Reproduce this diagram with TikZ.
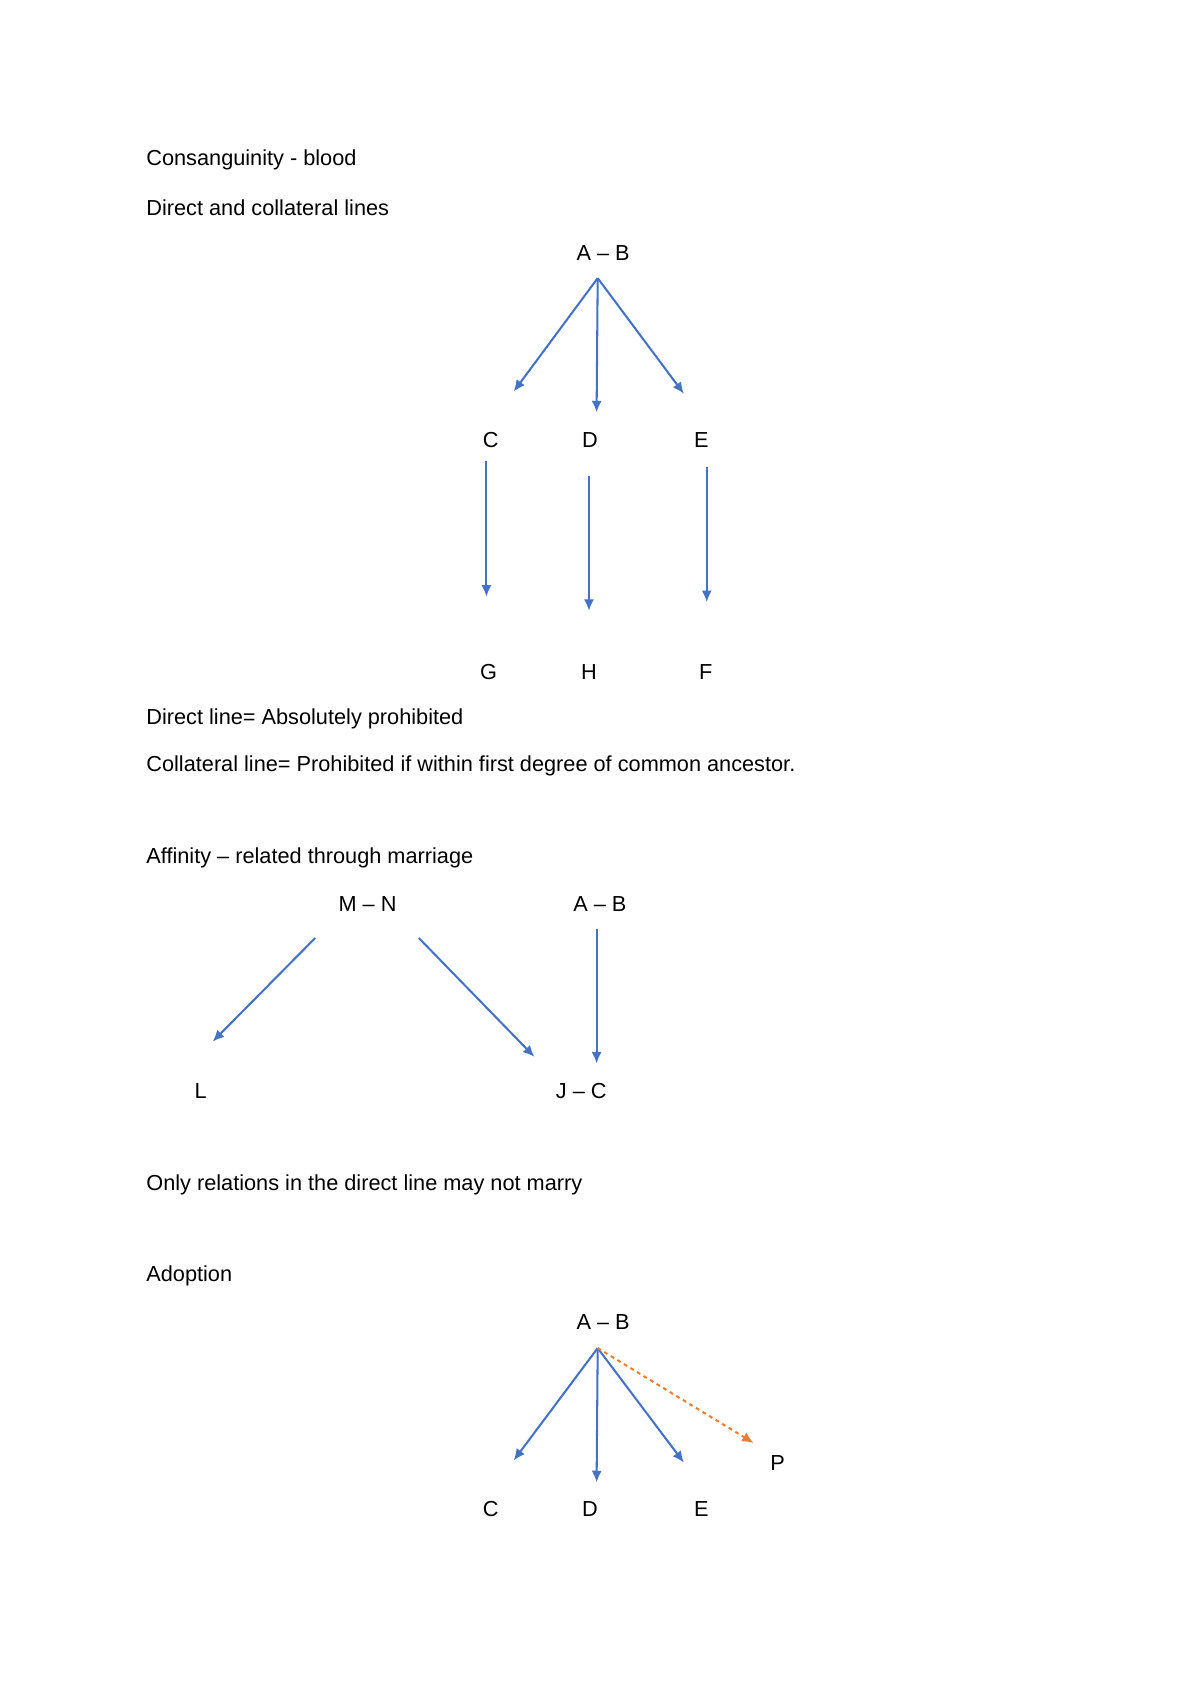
\documentclass[tikz,border=0pt]{standalone}
\usepackage{fontspec}
\setmainfont{Liberation Sans}
\usetikzlibrary{arrows.meta}
\tikzset{
  txt/.style={anchor=west,inner sep=0pt,font=\fontsize{17}{20}\selectfont},
  lbl/.style={inner sep=0pt,font=\fontsize{17}{20}\selectfont},
  rel/.style={draw={rgb,255:red,68;green,114;blue,196},line width=1.6pt,-{Latex[length=9pt,width=8pt]}},
  adopt/.style={draw={rgb,255:red,237;green,125;blue,49},line width=1.6pt,dashed,-{Latex[length=9pt,width=8pt]}}
}
\begin{document}
\begin{tikzpicture}[x=0.03cm,y=-0.03cm]
\useasboundingbox (0,0) rectangle (1100,1555);
% headings
\node[txt] (t1) at (134,147) {Consanguinity - blood};
\node[txt] (t2) at (134,190) {Direct and collateral lines};
% consanguinity tree
\node[lbl] (ab1) at (553,232) {A -- B};
\node[lbl] (c1) at (450,403) {C};
\node[lbl] (d1) at (541,403) {D};
\node[lbl] (e1) at (643,403) {E};
\node[lbl] (g1) at (448,616) {G};
\node[lbl] (h1) at (540,616) {H};
\node[lbl] (f1) at (647,616) {F};
\coordinate (top1) at (548,255);
\draw[rel] (top1) -- (471,359);
\draw[rel] (top1) -- (547,378);
\draw[rel] (top1) -- (627,361);
\draw[rel] (446,423) -- (446,547);
\draw[rel] (540,436) -- (540,560);
\draw[rel] (648,428) -- (648,552);
\node[txt] (t3) at (134,659) {Direct line= Absolutely prohibited};
\node[txt] (t4) at (134,702) {Collateral line= Prohibited if within first degree of common ancestor.};
% affinity
\node[txt] (t5) at (134,787) {Affinity -- related through marriage};
\node[lbl] (mn) at (337,829) {M -- N};
\node[lbl] (ab2) at (550,829) {A -- B};
\node[lbl] (l2) at (184,1000) {L};
\node[lbl] (jc) at (533,1000) {J -- C};
\draw[rel] (289,860) -- (195,955);
\draw[rel] (384,860) -- (490,969);
\draw[rel] (547,852) -- (547,975);
\node[txt] (t6) at (134,1086) {Only relations in the direct line may not marry};
% adoption
\node[txt] (t7) at (134,1170) {Adoption};
\node[lbl] (ab3) at (553,1212) {A -- B};
\node[lbl] (c3) at (450,1384) {C};
\node[lbl] (d3) at (541,1384) {D};
\node[lbl] (e3) at (643,1384) {E};
\node[lbl] (p3) at (713,1341) {P};
\coordinate (top3) at (548,1236);
\draw[rel] (top3) -- (471,1339);
\draw[rel] (top3) -- (547,1359);
\draw[rel] (top3) -- (627,1341);
\draw[adopt] (top3) -- (691,1323);
\end{tikzpicture}
\end{document}
